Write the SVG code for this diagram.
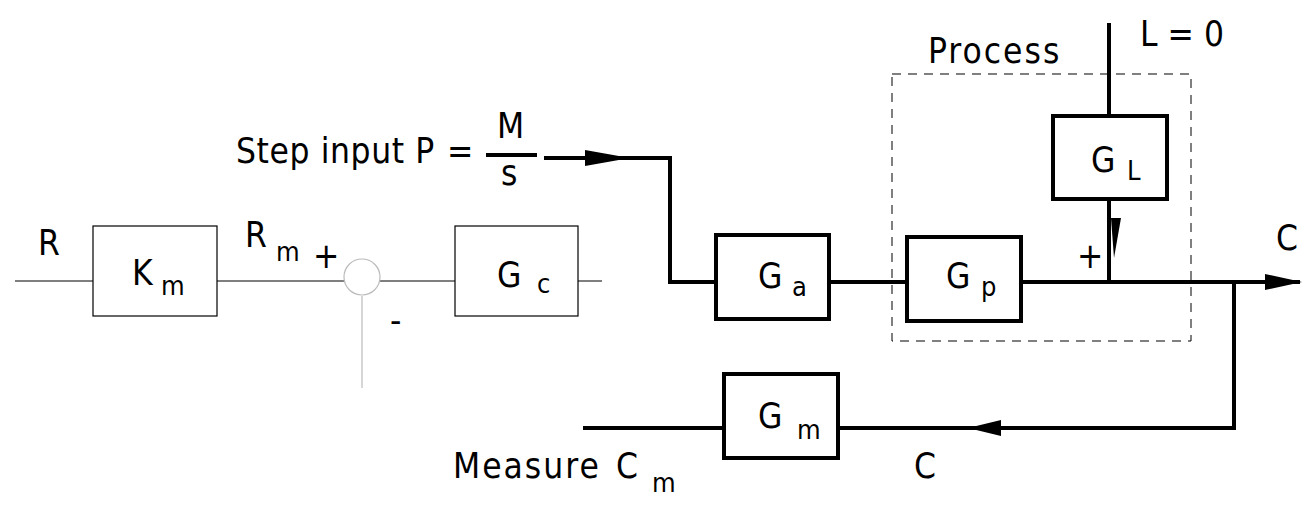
<svg xmlns="http://www.w3.org/2000/svg" width="1315" height="515" viewBox="0 0 1315 515">
<style>
text{font-family:"DejaVu Sans Condensed","DejaVu Sans",sans-serif;fill:#000}
.t{font-size:35px}.s{font-size:27px}.w{letter-spacing:2px}
.thin{fill:#fff;stroke:#000;stroke-width:1.2}
.thick{fill:#fff;stroke:#000;stroke-width:4}
.ln{fill:none;stroke:#000;stroke-width:1.2}
.lw{fill:none;stroke:#000;stroke-width:4}
</style>
<rect width="1315" height="515" fill="#fff"/>
<rect x="892" y="74" width="299" height="267" fill="none" stroke="#000" stroke-width="1" stroke-dasharray="9,7"/>
<g id="connectors">
<path class="ln" d="M15 281H93M217 281H344M380 281H455M578 281H602"/>
<path d="M362 296V388" stroke="#bbb" stroke-width="1.2"/>
<path class="lw" d="M544 158H670V282H716M829 282H907M1021 282H1300M1109 23V116M1109 199V282M1234 282V428H838M724 428H583"/>
<path d="M585 150L630 158L585 166Z"/>
<path d="M1265 274L1302 282L1265 290Z"/>
<path d="M1001 420L968 428L1001 436Z"/>
<path d="M1111 218L1121 218L1114 258Z"/>
</g>
<g id="summer"><circle cx="362" cy="277" r="18" fill="#fff" stroke="#bbb" stroke-width="1.2"/></g>
<g id="Km"><rect class="thin" x="93" y="226" width="124" height="90"/><text class="t" x="132" y="285">K</text><text class="s" x="161" y="295">m</text></g>
<g id="Gc"><rect class="thin" x="455" y="226" width="123" height="90"/><text class="t" x="497" y="287">G</text><text class="s" x="537" y="293">c</text></g>
<g id="Ga"><rect class="thick" x="716" y="235" width="113" height="84"/><text class="t" x="758" y="288">G</text><text class="s" x="792" y="296">a</text></g>
<g id="Gp"><rect class="thick" x="907" y="237" width="114" height="84"/><text class="t" x="946" y="288">G</text><text class="s" x="981" y="296">p</text></g>
<g id="GL"><rect class="thick" x="1053" y="116" width="114" height="83"/><text class="t" x="1091" y="172">G</text><text class="s" x="1127" y="180">L</text></g>
<g id="Gm"><rect class="thick" x="724" y="374" width="114" height="84"/><text class="t" x="758" y="428">G</text><text class="s" x="797" y="439">m</text></g>
<g id="labels">
<text class="t" x="38" y="255">R</text>
<text class="t" x="245" y="247">R</text><text class="s" x="276" y="261">m</text>
<text class="t" x="313" y="268">+</text>
<text class="t" x="390" y="332">-</text>
<text class="t" x="236" y="163" letter-spacing="0.6">Step input P</text>
<text class="t" x="447" y="163">=</text>
<text class="t" x="497" y="138">M</text>
<rect x="486" y="153" width="51" height="4"/>
<text class="t" x="501" y="185">s</text>
<text class="t w" x="928" y="63">Process</text>
<text class="t" x="1140" y="46">L = 0</text>
<text class="t" x="1077" y="268">+</text>
<text class="t" x="1276" y="250">C</text>
<text class="t w" x="453" y="478">Measure</text><text class="t" x="616" y="478">C</text><text class="s" x="652" y="492">m</text>
<text class="t" x="914" y="478">C</text>
</g>
</svg>
